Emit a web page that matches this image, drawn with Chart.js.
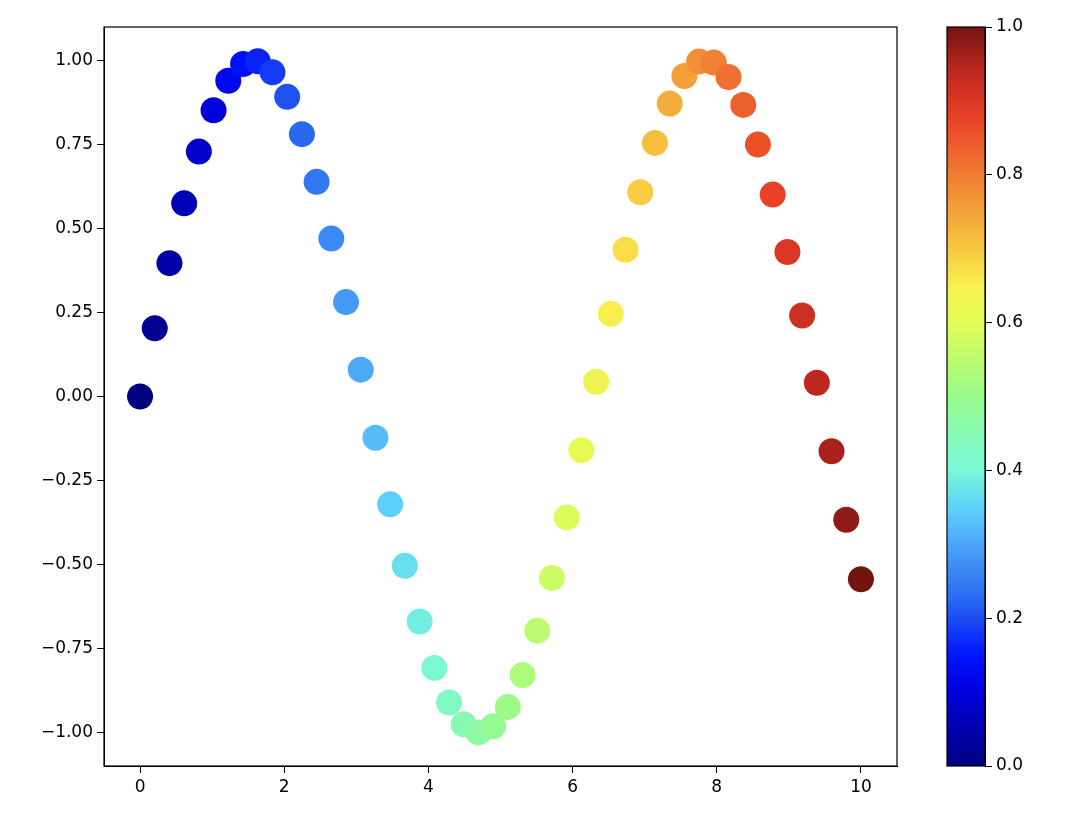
<!DOCTYPE html>
<html>
<head>
<meta charset="utf-8">
<script src="https://cdn.jsdelivr.net/npm/chart.js@4/dist/chart.umd.min.js"></script>
<style>
  body { margin: 0; background: #fff; }
  #main { position: absolute; left: 0; top: 0; }
  #cbar { position: absolute; left: 920px; top: 0; }
</style>
</head>
<body>
<canvas id="main" width="920" height="838"></canvas>
<canvas id="cbar" width="154" height="838"></canvas>
<script>
// values
var xValues = [0, 0.204, 0.408, 0.612, 0.816, 1.020, 1.224, 1.429, 1.633, 1.837,
  2.041, 2.245, 2.449, 2.653, 2.857, 3.061, 3.265, 3.469, 3.673, 3.878,
  4.082, 4.286, 4.490, 4.694, 4.898, 5.102, 5.306, 5.510, 5.714, 5.918,
  6.122, 6.327, 6.531, 6.735, 6.939, 7.143, 7.347, 7.551, 7.755, 7.959,
  8.163, 8.367, 8.571, 8.776, 8.980, 9.184, 9.388, 9.592, 9.796, 10];
var yValues = [0, 0.203, 0.397, 0.575, 0.729, 0.852, 0.940, 0.990, 0.998, 0.965,
  0.892, 0.781, 0.639, 0.470, 0.281, 0.080, -0.123, -0.321, -0.504, -0.670,
  -0.808, -0.911, -0.976, -1.000, -0.982, -0.924, -0.829, -0.697, -0.540, -0.360,
  -0.160, 0.044, 0.246, 0.437, 0.608, 0.755, 0.872, 0.954, 0.997, 0.994,
  0.951, 0.868, 0.750, 0.601, 0.430, 0.241, 0.041, -0.163, -0.367, -0.544];
var colorValues = xValues.map(function (x) { return x / 10; });

// colour stops
var cmapStops = [0, 0.1, 0.15, 0.22, 0.3, 0.35, 0.4, 0.5, 0.6, 0.65, 0.7, 0.8, 0.88, 0.95, 1];
var cmapColors = [[0, 0, 128], [0, 0, 220], [0, 20, 255], [40, 100, 240], [75, 165, 248], [95, 210, 250],
  [120, 248, 215], [150, 250, 140], [225, 253, 85], [248, 240, 80], [248, 200, 65], [240, 125, 50],
  [233, 62, 38], [180, 36, 30], [115, 20, 15]];

function cmap(v) {
  for (var i = 1; i < cmapStops.length; i++) {
    if (v <= cmapStops[i]) {
      var t = (v - cmapStops[i - 1]) / (cmapStops[i] - cmapStops[i - 1]);
      var a = cmapColors[i - 1], b = cmapColors[i];
      return "rgb(" + [0, 1, 2].map(function (k) { return Math.round(a[k] + (b[k] - a[k]) * t); }).join(",") + ")";
    }
  }
  return "rgb(" + cmapColors[cmapColors.length - 1].join(",") + ")";
}

Chart.defaults.font.family = "DejaVu Sans";
Chart.defaults.font.size = 17;
Chart.defaults.color = "#000";

var frame = {
  id: "frame",
  afterDraw: function (chart) {
    var a = chart.chartArea, ctx = chart.ctx;
    ctx.save();
    ctx.strokeStyle = "#000";
    ctx.lineWidth = 1.2;
    ctx.strokeRect(a.left, a.top, a.right - a.left, a.bottom - a.top);
    ctx.restore();
  }
};

var points = xValues.map(function (x, i) { return { x: x, y: yValues[i] }; });

new Chart(document.getElementById("main").getContext("2d"), {
  type: "scatter",
  data: {
    datasets: [{
      data: points,
      pointRadius: 13,
      pointHoverRadius: 13,
      borderWidth: 0,
      pointBackgroundColor: colorValues.map(cmap)
    }]
  },
  options: {
    responsive: false,
    animation: false,
    layout: { padding: { left: 0, top: 27, right: 23, bottom: 0 } },
    plugins: { legend: { display: false }, tooltip: { enabled: false } },
    scales: {
      x: {
        min: -0.5, max: 10.5,
        grid: { drawOnChartArea: false, tickLength: 7, color: "#000" },
        border: { color: "#000" },
        ticks: { padding: 4 },
        afterBuildTicks: function (s) { s.ticks = [0, 2, 4, 6, 8, 10].map(function (v) { return { value: v }; }); },
        afterFit: function (s) { s.height = 72; }
      },
      y: {
        min: -1.1, max: 1.1,
        grid: { drawOnChartArea: false, tickLength: 7, color: "#000" },
        border: { color: "#000" },
        afterBuildTicks: function (s) {
          var t = [];
          for (var v = -1; v <= 1.001; v += 0.25) t.push({ value: v });
          s.ticks = t;
        },
        ticks: { padding: 4, callback: function (v) { return Number(v).toFixed(2).replace("-", "\u2212"); } },
        afterFit: function (s) { s.width = 104; }
      }
    }
  },
  plugins: [frame]
});

var gradientFill = {
  id: "gradientFill",
  beforeDraw: function (chart) {
    var a = chart.chartArea, ctx = chart.ctx;
    var g = ctx.createLinearGradient(0, a.bottom, 0, a.top);
    for (var i = 0; i <= 40; i++) g.addColorStop(i / 40, cmap(i / 40));
    ctx.save();
    ctx.fillStyle = g;
    ctx.fillRect(a.left, a.top, a.right - a.left, a.bottom - a.top);
    ctx.restore();
  }
};

new Chart(document.getElementById("cbar").getContext("2d"), {
  type: "scatter",
  data: { datasets: [{ data: [], pointRadius: 0 }] },
  options: {
    responsive: false,
    animation: false,
    layout: { padding: { left: 27, top: 27, right: 0, bottom: 72 } },
    plugins: { legend: { display: false }, tooltip: { enabled: false } },
    scales: {
      x: { display: false, min: 0, max: 1 },
      y: {
        position: "right",
        min: 0, max: 1,
        grid: { drawOnChartArea: false, tickLength: 7, color: "#000" },
        border: { color: "#000" },
        ticks: { stepSize: 0.2, padding: 4, callback: function (v) { return Number(v).toFixed(1); } },
        afterFit: function (s) { s.width = 89; }
      }
    }
  },
  plugins: [gradientFill, frame]
});
</script>
</body>
</html>
